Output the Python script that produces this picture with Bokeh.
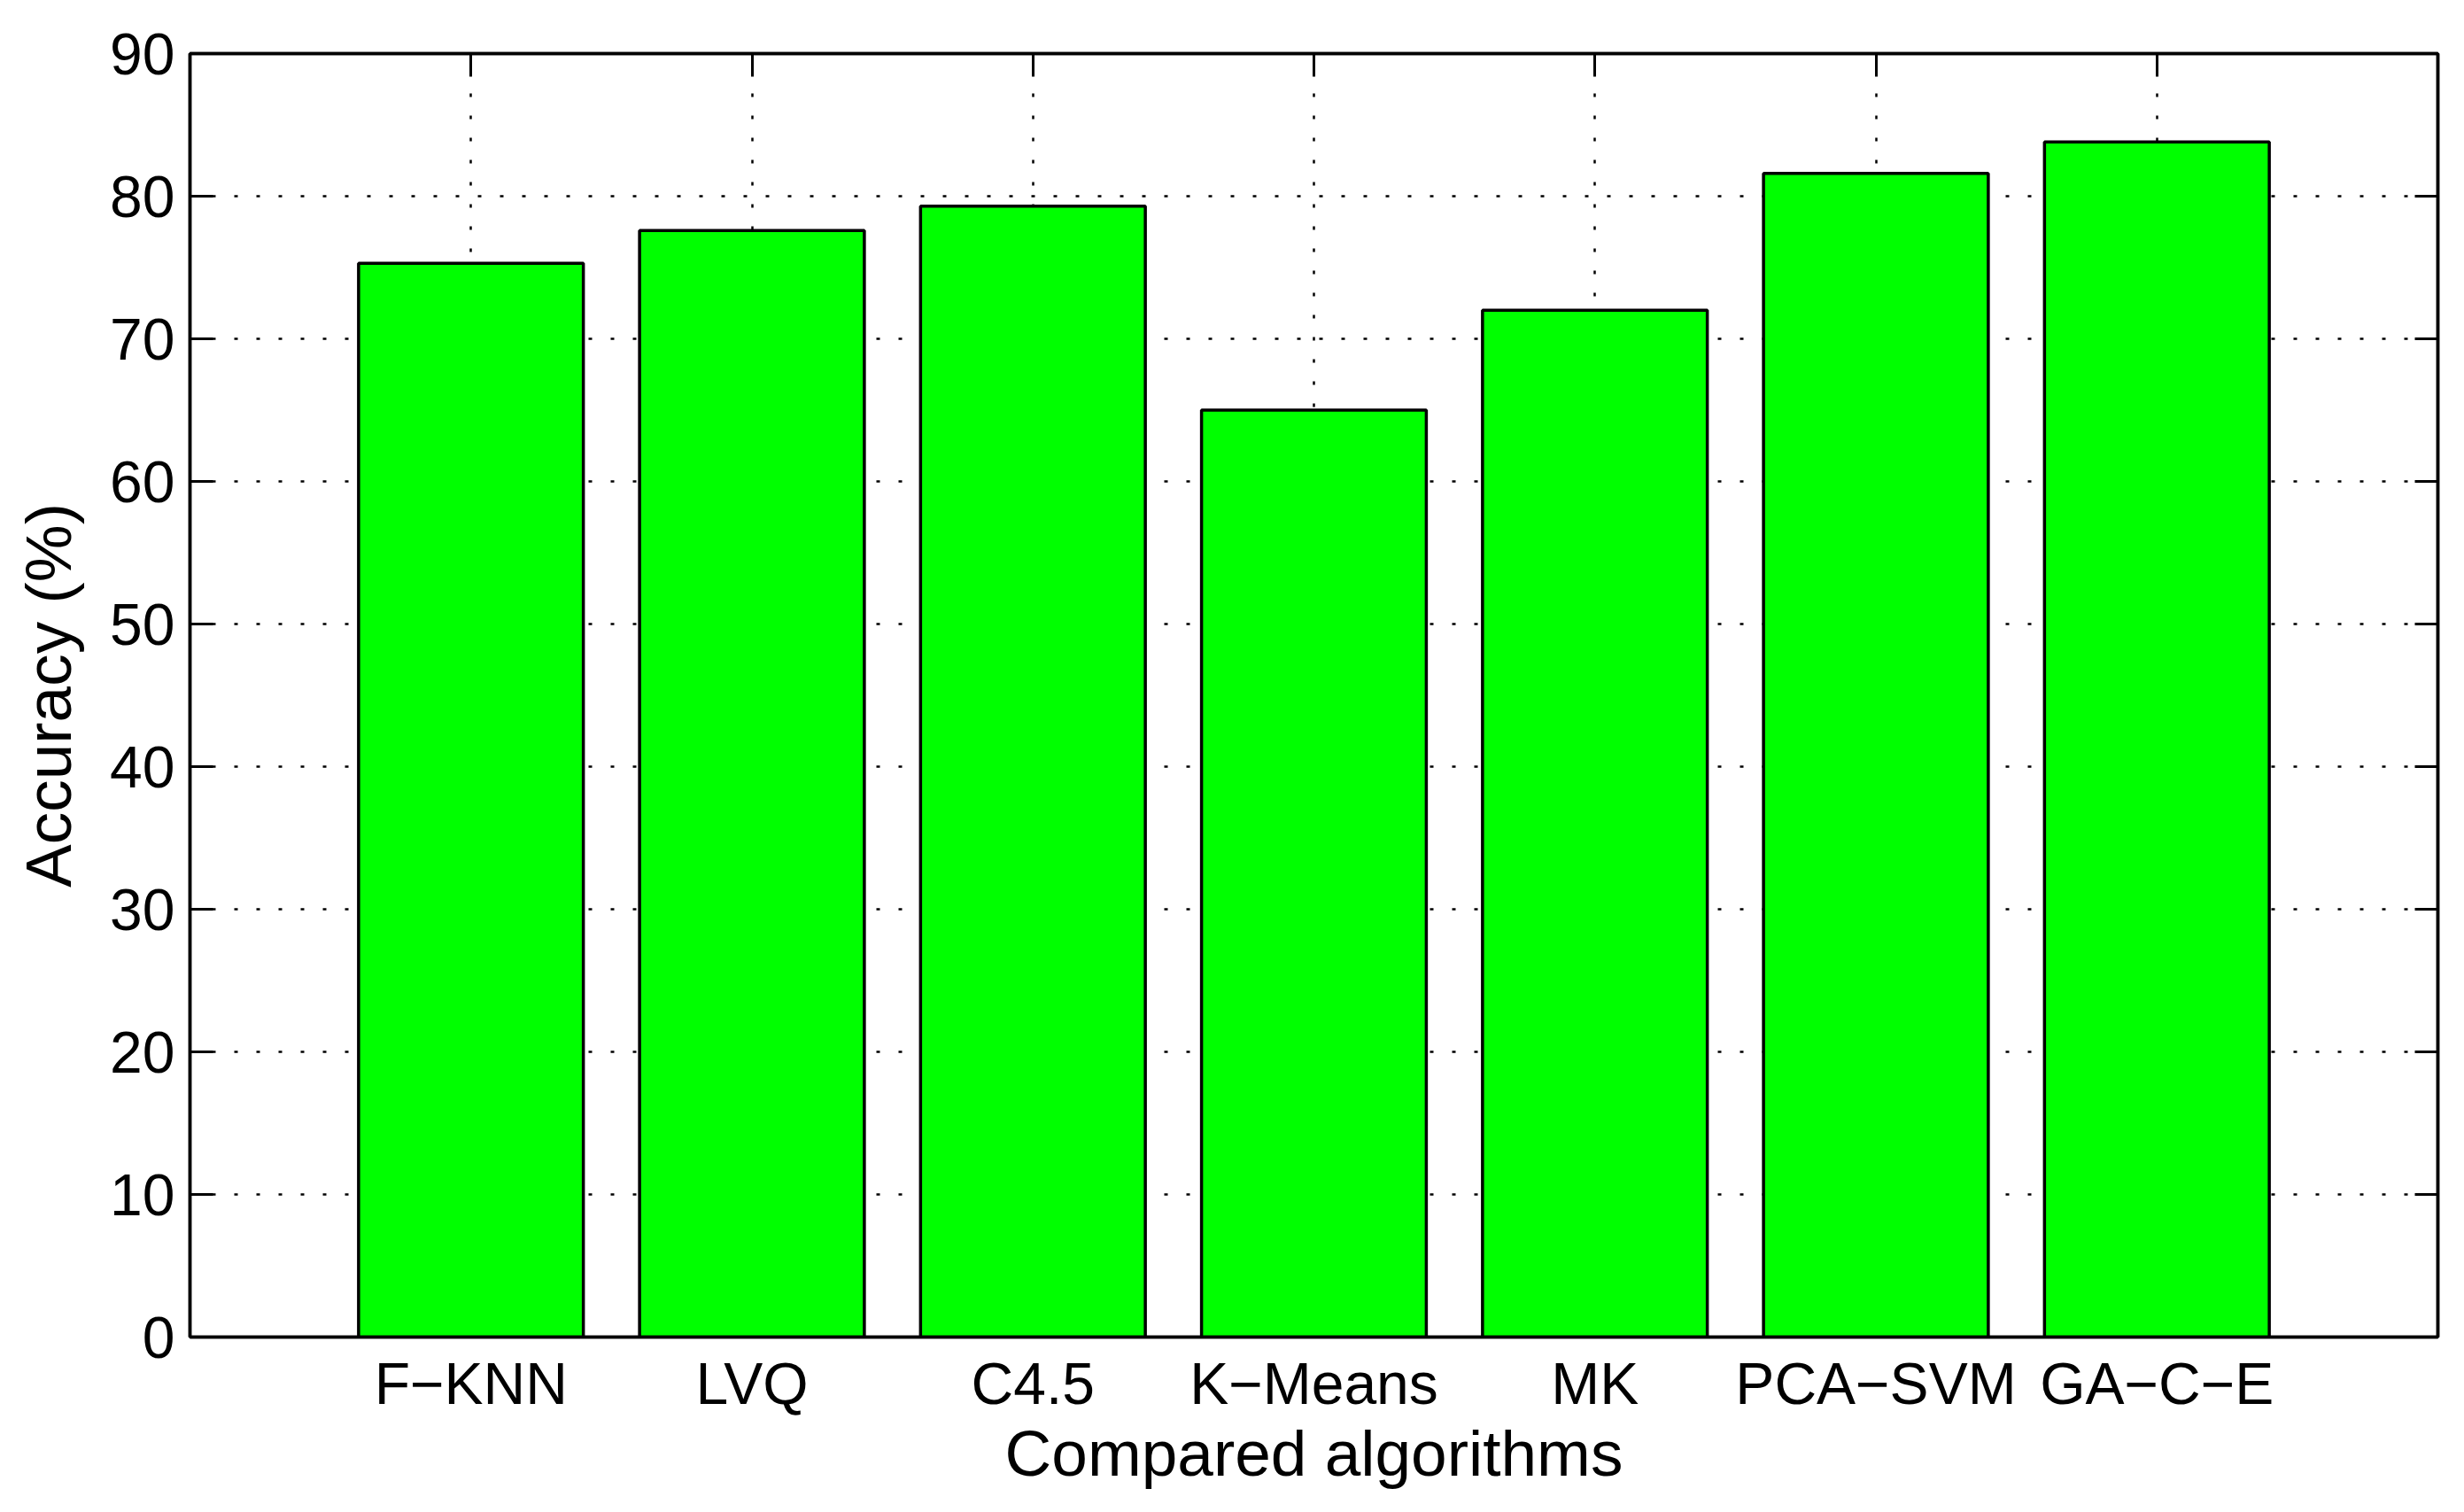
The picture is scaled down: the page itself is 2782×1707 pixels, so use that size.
from bokeh.plotting import figure
from bokeh.models import Range1d, FixedTicker, LinearAxis, ColumnDataSource
from bokeh.embed import file_html
from bokeh.resources import INLINE

# ---- data ----
categories = ["F\u2212KNN", "LVQ", "C4.5", "K\u2212Means", "MK", "PCA\u2212SVM", "GA\u2212C\u2212E"]
accuracy = [75.3, 77.6, 79.3, 65.0, 72.0, 81.6, 83.8]
y_ticks = [0, 10, 20, 30, 40, 50, 60, 70, 80, 90]

positions = list(range(1, len(categories) + 1))

FONT = "Liberation Sans"
TICK_FS = "66px"
LABEL_FS = "73px"

p = figure(width=2766, height=1691, output_backend="svg", toolbar_location=None,
           x_range=Range1d(0, len(categories) + 1), y_range=Range1d(y_ticks[0], y_ticks[-1]),
           min_border_left=214, min_border_right=14, min_border_top=60, min_border_bottom=182)
p.background_fill_color = "white"
p.border_fill_color = "white"
p.outline_line_color = "black"
p.outline_line_width = 3.5

src = ColumnDataSource(dict(x=positions, top=accuracy, name=categories))
p.vbar(x="x", top="top", width=0.8, source=src, fill_color="#00ff00",
       line_color="black", line_width=3.5)

xt = FixedTicker(ticks=positions)
yt = FixedTicker(ticks=y_ticks)

# grids
p.xgrid.ticker = xt
p.ygrid.ticker = yt
for g in (p.xgrid, p.ygrid):
    g.grid_line_color = "black"
    g.grid_line_width = 2.5
    g.grid_line_dash = "4 21"

# bottom axis
xa = p.xaxis[0]
xa.ticker = xt
xa.major_label_overrides = {pos: name for pos, name in zip(positions, categories)}
xa.major_tick_in = 0
xa.major_tick_out = 0
xa.minor_tick_in = 0
xa.minor_tick_out = 0
xa.major_label_standoff = 15
xa.major_label_text_font = FONT
xa.major_label_text_font_size = TICK_FS
xa.major_label_text_color = "black"
xa.axis_label = "Compared algorithms"
xa.axis_label_text_font = FONT
xa.axis_label_text_font_size = LABEL_FS
xa.axis_label_text_font_style = "normal"
xa.axis_label_text_color = "black"
xa.axis_label_standoff = -2
xa.axis_line_width = 3.5
xa.axis_line_color = "black"

# left axis
ya = p.yaxis[0]
ya.ticker = yt
ya.major_tick_in = 26
ya.major_tick_out = 0
ya.major_tick_line_width = 3
ya.minor_tick_in = 0
ya.minor_tick_out = 0
ya.major_label_standoff = 17
ya.major_label_text_font = FONT
ya.major_label_text_font_size = TICK_FS
ya.major_label_text_color = "black"
ya.axis_label = "Accuracy (%)"
ya.axis_label_text_font = FONT
ya.axis_label_text_font_size = LABEL_FS
ya.axis_label_text_font_style = "normal"
ya.axis_label_text_color = "black"
ya.axis_label_standoff = 26
ya.axis_line_width = 3.5
ya.axis_line_color = "black"

# top axis (ticks only)
ta = LinearAxis(ticker=xt, major_label_overrides={pos: "" for pos in positions})
ta.major_tick_in = 26
ta.major_tick_out = 0
ta.major_tick_line_width = 3
ta.minor_tick_in = 0
ta.minor_tick_out = 0
ta.major_label_standoff = 0
ta.major_label_text_font_size = "1px"
ta.axis_line_width = 3.5
p.add_layout(ta, "above")

# right axis (ticks only)
ra = LinearAxis(ticker=yt, major_label_overrides={t: "" for t in y_ticks})
ra.major_tick_in = 26
ra.major_tick_out = 0
ra.major_tick_line_width = 3
ra.minor_tick_in = 0
ra.minor_tick_out = 0
ra.major_label_standoff = 0
ra.major_label_text_font_size = "1px"
ra.axis_line_width = 3.5
p.add_layout(ra, "right")

open("out.html", "w").write(file_html(p, INLINE))
